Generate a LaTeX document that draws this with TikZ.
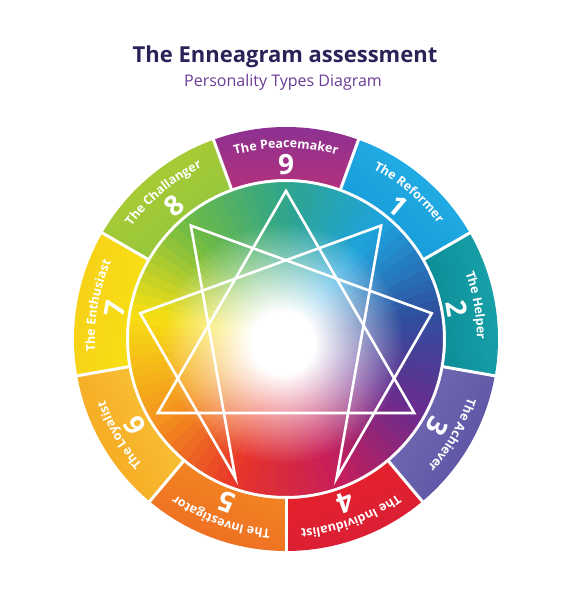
\documentclass[tikz,border=0pt]{standalone}
\usepackage{fontspec}
\setmainfont{Open Sans}
\usetikzlibrary{decorations.text,fadings}

\definecolor{titlec}{HTML}{2A2358}
\definecolor{subc}{HTML}{6A3C97}
% disc colour stops (every 40 degrees, starting at the top, clockwise)
\definecolor{dA}{HTML}{2FA58C}
\definecolor{dB}{HTML}{1EA3DD}
\definecolor{dC}{HTML}{2E4F9E}
\definecolor{dD}{HTML}{6A2B8E}
\definecolor{dE}{HTML}{C61E5A}
\definecolor{dF}{HTML}{E8352A}
\definecolor{dG}{HTML}{F4981D}
\definecolor{dH}{HTML}{F7DF14}
\definecolor{dI}{HTML}{6DBA45}
% ring segment colours (ccw side / cw side)
\definecolor{s9a}{HTML}{8A3193}\definecolor{s9b}{HTML}{B3317C}
\definecolor{s1a}{HTML}{26B3EA}\definecolor{s1b}{HTML}{1497D5}
\definecolor{s2a}{HTML}{18A4AB}\definecolor{s2b}{HTML}{0C8A94}
\definecolor{s3a}{HTML}{5B52A3}\definecolor{s3b}{HTML}{716BB3}
\definecolor{s4a}{HTML}{D81D36}\definecolor{s4b}{HTML}{E62329}
\definecolor{s5a}{HTML}{EE6A23}\definecolor{s5b}{HTML}{F28B22}
\definecolor{s6a}{HTML}{F5A51F}\definecolor{s6b}{HTML}{F8C539}
\definecolor{s7a}{HTML}{F7CF1A}\definecolor{s7b}{HTML}{F6E212}
\definecolor{s8a}{HTML}{B0CD30}\definecolor{s8b}{HTML}{8FC53F}

\pgfdeclareradialshading{rimshade}{\pgfpointorigin}{color(0bp)=(black); color(37bp)=(black); color(45bp)=(black!40!white); color(49bp)=(white); color(50bp)=(white)}
\pgfdeclarefading{rimfade}{\pgfuseshading{rimshade}}
\pgfdeclareradialshading{censhade}{\pgfpointorigin}{color(0bp)=(white); color(5bp)=(white); color(19bp)=(black); color(50bp)=(black)}
\pgfdeclarefading{cenfade}{\pgfuseshading{censhade}}

\newcommand{\labfont}{\fontsize{12.5}{12.5}\selectfont\bfseries}
\newcommand{\ringseg}[3]{%
  \pgfmathsetmacro\sa{#1+20}\pgfmathsetmacro\ea{#1-20}\pgfmathsetmacro\shang{#1-90}%
  \shade[left color=#2, right color=#3, shading angle=\shang]
    (\sa:212) arc[start angle=\sa, end angle=\ea, radius=212pt]
    -- (\ea:160) arc[start angle=\ea, end angle=\sa, radius=160pt] -- cycle;
}
\newcommand{\arclabel}[3]{%
  \pgfmathsetmacro\sa{#1+28}\pgfmathsetmacro\ea{#1-28}\pgfmathsetmacro\rot{#1-90}%
  \path[decorate, decoration={text along path, text={|\labfont|#2}, text align=center, text color=white}]
    (\sa:191) arc[start angle=\sa, end angle=\ea, radius=191pt];
  \node[numlab, rotate=\rot] (n#3) at (#1:174) {#3};
}

\begin{document}
\begin{tikzpicture}[x=1pt, y=1pt,
  titlestyle/.style={font=\fontsize{22}{22}\selectfont\bfseries, text=titlec, inner sep=0pt},
  substyle/.style={font=\fontsize{16}{16}\selectfont, text=subc, inner sep=0pt},
  numlab/.style={font=\fontsize{28}{28}\selectfont\bfseries, text=white, inner sep=0pt},
  eline/.style={draw=white, line width=2.6pt, line join=miter, line cap=round},
  sepline/.style={draw=white, line width=3pt}]
\useasboundingbox (0,0) rectangle (570,600);

\node[titlestyle, anchor=base] (title) at (285,537) {The Enneagram assessment};
\node[substyle, anchor=base] (subtitle) at (283,513) {Personality Types Diagram};

\begin{scope}[shift={(286,261)}]
  % ring segments
  \ringseg{90}{s9a}{s9b}
  \ringseg{50}{s1a}{s1b}
  \ringseg{10}{s2a}{s2b}
  \ringseg{-30}{s3a}{s3b}
  \ringseg{-70}{s4a}{s4b}
  \ringseg{-110}{s5a}{s5b}
  \ringseg{-150}{s6a}{s6b}
  \ringseg{-190}{s7a}{s7b}
  \ringseg{-230}{s8a}{s8b}
  \foreach \b in {110,70,30,-10,-50,-90,-130,-170,-210}{
    \draw[sepline] (\b:150) -- (\b:217);
  }
  % rainbow disc
  \foreach \a/\ca/\cb in {90/dA/dB, 50/dB/dC, 10/dC/dD, -30/dD/dE, -70/dE/dF, -110/dF/dG, -150/dG/dH, -190/dH/dI, -230/dI/dA}{
    \foreach \j in {0,...,9}{
      \pgfmathsetmacro\ssa{\a-4*\j+0.4}
      \pgfmathsetmacro\eea{\a-4*\j-4.4}
      \pgfmathtruncatemacro\p{10*\j+5}
      \fill[\cb!\p!\ca] (0,0) -- (\ssa:158) arc[start angle=\ssa, end angle=\eea, radius=158pt] -- cycle;
    }
  }
  \fill[white, path fading=cenfade] (-3,-4) circle[radius=158pt];
  \fill[white, path fading=rimfade] (0,0) circle[radius=158pt];
  \draw[white, line width=2pt] (0,0) circle[radius=158pt];

  % enneagram
  \foreach \k in {1,...,9}{
    \pgfmathsetmacro\ang{90-40*\k}
    \coordinate (p\k) at (\ang:148);
  }
  \draw[eline] (p9) -- (p3) -- (p6) -- cycle;
  \draw[eline] (p1) -- (p4) -- (p2) -- (p8) -- (p5) -- (p7) -- cycle;

  % labels
  \arclabel{90}{The Peacemaker}{9}
  \arclabel{50}{The Reformer}{1}
  \arclabel{10}{The Helper}{2}
  \arclabel{-30}{The Achiever}{3}
  \arclabel{-70}{The Individualist}{4}
  \arclabel{-110}{The Investigator}{5}
  \arclabel{-150}{The Loyalist}{6}
  \arclabel{-190}{The Enthusiast}{7}
  \arclabel{-230}{The Challanger}{8}
\end{scope}
\end{tikzpicture}
\end{document}
